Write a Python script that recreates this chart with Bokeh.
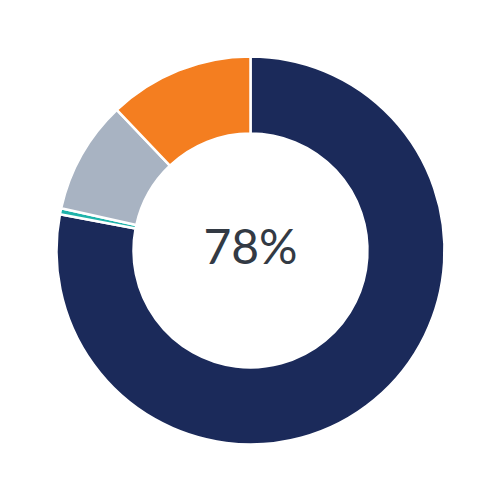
import math
from bokeh.plotting import figure
from bokeh.models import ColumnDataSource
from bokeh.embed import file_html
from bokeh.resources import INLINE
from bokeh.core.properties import value

labels = ['Navy', 'Teal', 'Grey', 'Orange']
shares = [78.0, 0.5, 9.4, 12.1]
colors = ['#1b2a5a', '#1fb3aa', '#a8b3c2', '#f47e20']
center_label = '78%'

total = sum(shares)
starts, ends = [], []
acc = 0.0
for s in shares:
    # clockwise from 12 o'clock
    starts.append(math.pi / 2 - 2 * math.pi * acc / total)
    acc += s
    ends.append(math.pi / 2 - 2 * math.pi * acc / total)

src = ColumnDataSource(dict(label=labels, start=starts, end=ends, color=colors))

p = figure(width=484, height=484, x_range=(-250, 234), y_range=(-234, 250),
           output_backend="svg", toolbar_location=None, min_border=0)
p.axis.visible = False
p.grid.visible = False
p.outline_line_color = None

p.annular_wedge(x=0, y=0, inner_radius=117, outer_radius=194,
                start_angle='start', end_angle='end', direction='clock',
                fill_color='color', line_color='white', line_width=2.5, source=src)

p.text(x=[0], y=[5], text=[center_label], text_align='center', text_baseline='middle',
       text_font=value("Lato"), text_font_size='48px', text_color='#333a44')

open("out.html", "w").write(file_html(p, INLINE))
